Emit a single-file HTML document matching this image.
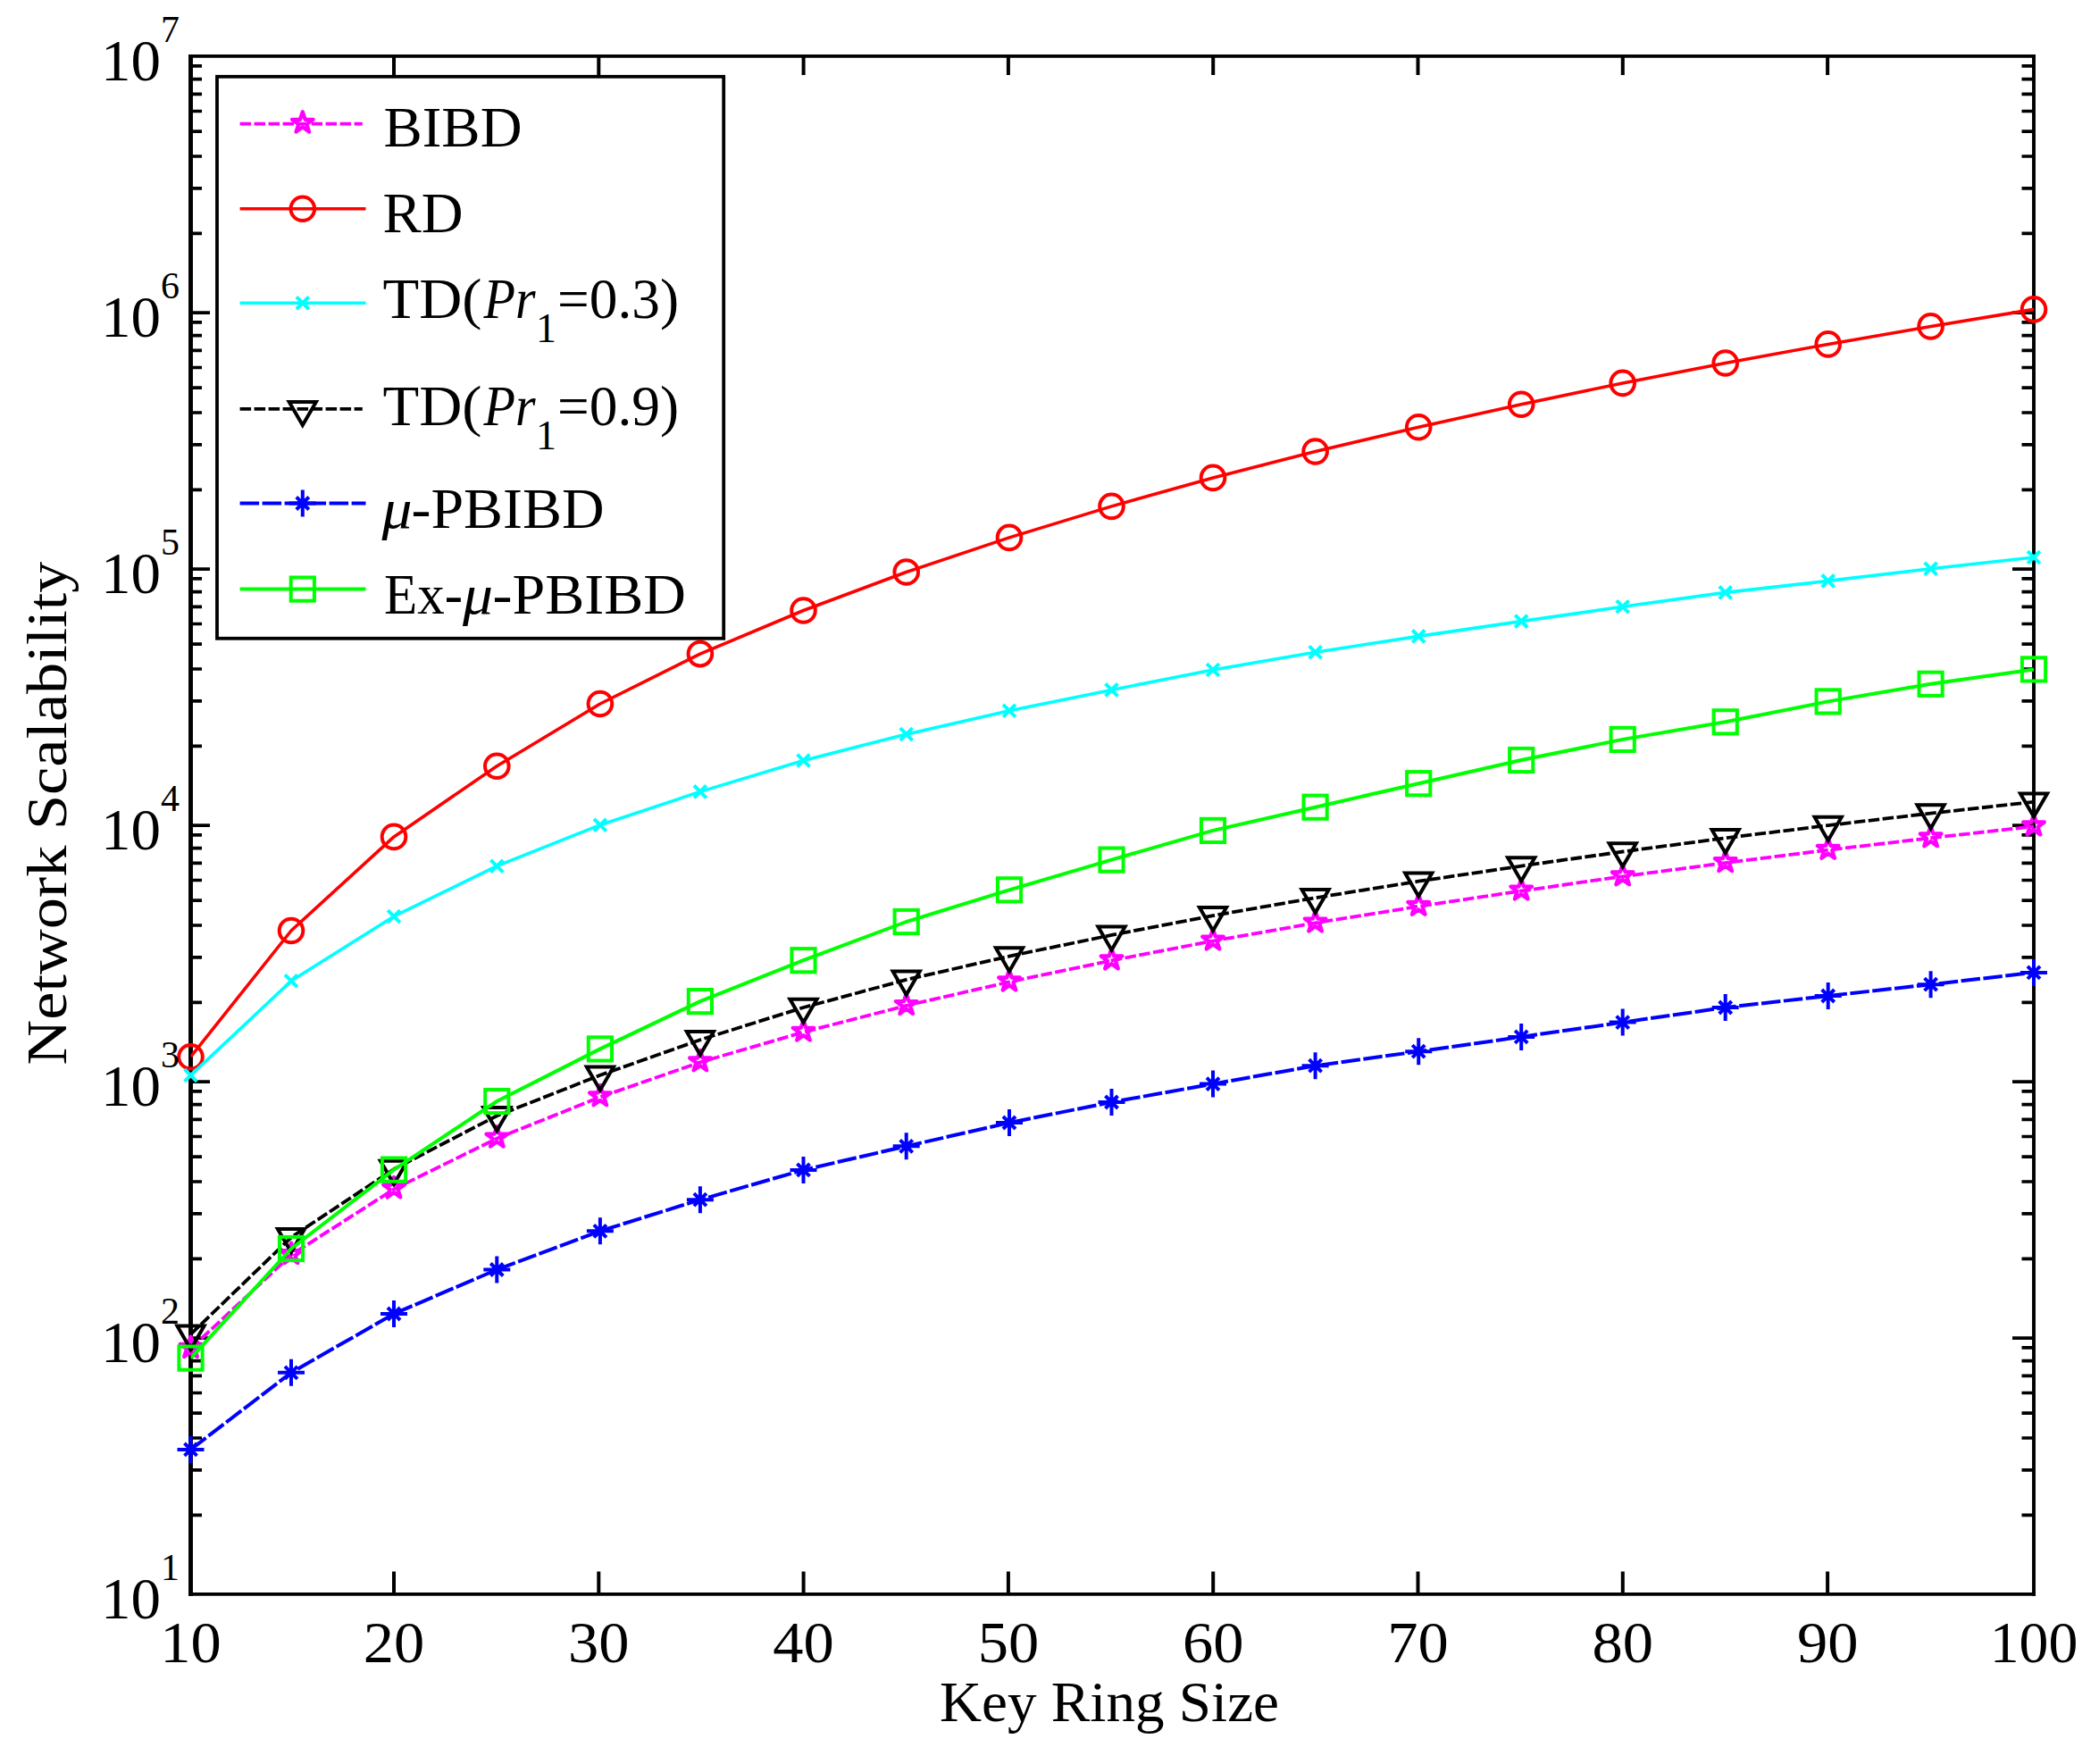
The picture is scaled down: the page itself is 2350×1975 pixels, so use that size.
<!DOCTYPE html>
<html lang="en"><head><meta charset="utf-8"><title>Network Scalability vs Key Ring Size</title>
<style>html,body{margin:0;padding:0;background:#fff}body{width:2350px;height:1975px}svg{display:block}text{font-family:"Liberation Serif","DejaVu Serif",serif;fill:#000}</style></head><body>
<svg width="2350" height="1975" viewBox="0 0 2350 1975">
<rect x="0" y="0" width="2350" height="1975" fill="#fff"/>
<defs><clipPath id="ax"><rect x="213.5" y="63" width="2065.4" height="1722"/></clipPath></defs>
<g stroke="#000" fill="none">
<line x1="213.5" y1="61.0" x2="213.5" y2="1786.8" stroke-width="4.9"/>
<line x1="2277.0" y1="61.0" x2="2277.0" y2="1786.8" stroke-width="3.9"/>
<line x1="211.0" y1="62.9" x2="2279.0" y2="62.9" stroke-width="3.9"/>
<line x1="211.0" y1="1784.9" x2="2279.0" y2="1784.9" stroke-width="3.8"/>
<path d="M441.0 1784.9V1759.5M441.0 62.9V84.0M670.3 1784.9V1759.5M670.3 62.9V84.0M899.6 1784.9V1759.5M899.6 62.9V84.0M1128.9 1784.9V1759.5M1128.9 62.9V84.0M1358.2 1784.9V1759.5M1358.2 62.9V84.0M1587.5 1784.9V1759.5M1587.5 62.9V84.0M1816.8 1784.9V1759.5M1816.8 62.9V84.0M2046.1 1784.9V1759.5M2046.1 62.9V84.0" stroke-width="4"/>
<path d="M213.5 1498.1H235.0M2277.0 1498.1H2253.0M213.5 1211.1H235.0M2277.0 1211.1H2253.0M213.5 924.1H235.0M2277.0 924.1H2253.0M213.5 637.1H235.0M2277.0 637.1H2253.0M213.5 350.1H235.0M2277.0 350.1H2253.0" stroke-width="3.9"/>
<path d="M213.5 1696.4H226.0M2277.0 1696.4H2263.5M213.5 1645.9H226.0M2277.0 1645.9H2263.5M213.5 1610.0H226.0M2277.0 1610.0H2263.5M213.5 1582.2H226.0M2277.0 1582.2H2263.5M213.5 1559.5H226.0M2277.0 1559.5H2263.5M213.5 1540.3H226.0M2277.0 1540.3H2263.5M213.5 1523.6H226.0M2277.0 1523.6H2263.5M213.5 1508.9H226.0M2277.0 1508.9H2263.5M213.5 1409.4H226.0M2277.0 1409.4H2263.5M213.5 1358.9H226.0M2277.0 1358.9H2263.5M213.5 1323.0H226.0M2277.0 1323.0H2263.5M213.5 1295.2H226.0M2277.0 1295.2H2263.5M213.5 1272.5H226.0M2277.0 1272.5H2263.5M213.5 1253.3H226.0M2277.0 1253.3H2263.5M213.5 1236.6H226.0M2277.0 1236.6H2263.5M213.5 1221.9H226.0M2277.0 1221.9H2263.5M213.5 1122.4H226.0M2277.0 1122.4H2263.5M213.5 1071.9H226.0M2277.0 1071.9H2263.5M213.5 1036.0H226.0M2277.0 1036.0H2263.5M213.5 1008.2H226.0M2277.0 1008.2H2263.5M213.5 985.5H226.0M2277.0 985.5H2263.5M213.5 966.3H226.0M2277.0 966.3H2263.5M213.5 949.6H226.0M2277.0 949.6H2263.5M213.5 934.9H226.0M2277.0 934.9H2263.5M213.5 835.4H226.0M2277.0 835.4H2263.5M213.5 784.9H226.0M2277.0 784.9H2263.5M213.5 749.0H226.0M2277.0 749.0H2263.5M213.5 721.2H226.0M2277.0 721.2H2263.5M213.5 698.5H226.0M2277.0 698.5H2263.5M213.5 679.3H226.0M2277.0 679.3H2263.5M213.5 662.6H226.0M2277.0 662.6H2263.5M213.5 647.9H226.0M2277.0 647.9H2263.5M213.5 548.4H226.0M2277.0 548.4H2263.5M213.5 497.9H226.0M2277.0 497.9H2263.5M213.5 462.0H226.0M2277.0 462.0H2263.5M213.5 434.2H226.0M2277.0 434.2H2263.5M213.5 411.5H226.0M2277.0 411.5H2263.5M213.5 392.3H226.0M2277.0 392.3H2263.5M213.5 375.6H226.0M2277.0 375.6H2263.5M213.5 360.9H226.0M2277.0 360.9H2263.5M213.5 261.4H226.0M2277.0 261.4H2263.5M213.5 210.9H226.0M2277.0 210.9H2263.5M213.5 175.0H226.0M2277.0 175.0H2263.5M213.5 147.2H226.0M2277.0 147.2H2263.5M213.5 124.5H226.0M2277.0 124.5H2263.5M213.5 105.3H226.0M2277.0 105.3H2263.5M213.5 88.6H226.0M2277.0 88.6H2263.5M213.5 73.9H226.0M2277.0 73.9H2263.5" stroke-width="3.7"/>
</g>
<polyline clip-path="url(#ax)" points="213.5,1509.9 326.0,1405.0 441.0,1331.4 556.3,1274.6 671.9,1228.3 783.9,1189.3 899.5,1155.6 1014.7,1125.9 1130.0,1099.4 1244.5,1075.4 1358.0,1053.5 1472.6,1033.4 1588.2,1014.8 1703.2,997.5 1816.7,981.3 1931.7,966.1 2046.7,951.7 2161.6,938.2 2277.0,925.3" fill="none" stroke="#ff00ff" stroke-width="3.8" stroke-dasharray="12.5 3.5" stroke-linejoin="round"/>
<g><polygon points="213.5,1496.5 216.3,1505.0 225.3,1505.0 218.0,1510.3 220.8,1518.9 213.5,1513.6 206.2,1518.9 209.0,1510.3 201.7,1505.0 210.7,1505.0" fill="none" stroke="#ff00ff" stroke-width="4.3" stroke-linejoin="round"/><polygon points="326.0,1391.6 328.8,1400.2 337.8,1400.2 330.5,1405.5 333.3,1414.1 326.0,1408.8 318.7,1414.1 321.5,1405.5 314.2,1400.2 323.2,1400.2" fill="none" stroke="#ff00ff" stroke-width="4.3" stroke-linejoin="round"/><polygon points="441.0,1318.0 443.8,1326.5 452.8,1326.5 445.5,1331.8 448.3,1340.4 441.0,1335.1 433.7,1340.4 436.5,1331.8 429.2,1326.5 438.2,1326.5" fill="none" stroke="#ff00ff" stroke-width="4.3" stroke-linejoin="round"/><polygon points="556.3,1261.2 559.1,1269.7 568.1,1269.7 560.8,1275.0 563.6,1283.6 556.3,1278.3 549.0,1283.6 551.8,1275.0 544.5,1269.7 553.5,1269.7" fill="none" stroke="#ff00ff" stroke-width="4.3" stroke-linejoin="round"/><polygon points="671.9,1214.9 674.7,1223.5 683.7,1223.5 676.4,1228.8 679.2,1237.3 671.9,1232.1 664.6,1237.3 667.4,1228.8 660.1,1223.5 669.1,1223.5" fill="none" stroke="#ff00ff" stroke-width="4.3" stroke-linejoin="round"/><polygon points="783.9,1175.9 786.7,1184.5 795.7,1184.5 788.4,1189.8 791.2,1198.3 783.9,1193.1 776.6,1198.3 779.4,1189.8 772.1,1184.5 781.1,1184.5" fill="none" stroke="#ff00ff" stroke-width="4.3" stroke-linejoin="round"/><polygon points="899.5,1142.2 902.3,1150.8 911.3,1150.8 904.0,1156.1 906.8,1164.6 899.5,1159.3 892.2,1164.6 895.0,1156.1 887.7,1150.8 896.7,1150.8" fill="none" stroke="#ff00ff" stroke-width="4.3" stroke-linejoin="round"/><polygon points="1014.7,1112.5 1017.5,1121.1 1026.5,1121.1 1019.2,1126.4 1022.0,1134.9 1014.7,1129.6 1007.4,1134.9 1010.2,1126.4 1002.9,1121.1 1011.9,1121.1" fill="none" stroke="#ff00ff" stroke-width="4.3" stroke-linejoin="round"/><polygon points="1130.0,1086.0 1132.8,1094.5 1141.8,1094.5 1134.5,1099.8 1137.3,1108.4 1130.0,1103.1 1122.7,1108.4 1125.5,1099.8 1118.2,1094.5 1127.2,1094.5" fill="none" stroke="#ff00ff" stroke-width="4.3" stroke-linejoin="round"/><polygon points="1244.5,1062.0 1247.3,1070.5 1256.3,1070.5 1249.0,1075.8 1251.8,1084.4 1244.5,1079.1 1237.2,1084.4 1240.0,1075.8 1232.7,1070.5 1241.7,1070.5" fill="none" stroke="#ff00ff" stroke-width="4.3" stroke-linejoin="round"/><polygon points="1358.0,1040.1 1360.8,1048.7 1369.8,1048.7 1362.5,1054.0 1365.3,1062.5 1358.0,1057.2 1350.7,1062.5 1353.5,1054.0 1346.2,1048.7 1355.2,1048.7" fill="none" stroke="#ff00ff" stroke-width="4.3" stroke-linejoin="round"/><polygon points="1472.6,1020.0 1475.4,1028.6 1484.4,1028.6 1477.1,1033.9 1479.9,1042.4 1472.6,1037.1 1465.3,1042.4 1468.1,1033.9 1460.8,1028.6 1469.8,1028.6" fill="none" stroke="#ff00ff" stroke-width="4.3" stroke-linejoin="round"/><polygon points="1588.2,1001.4 1591.0,1009.9 1600.0,1009.9 1592.7,1015.2 1595.5,1023.8 1588.2,1018.5 1580.9,1023.8 1583.7,1015.2 1576.4,1009.9 1585.4,1009.9" fill="none" stroke="#ff00ff" stroke-width="4.3" stroke-linejoin="round"/><polygon points="1703.2,984.1 1706.0,992.6 1715.0,992.6 1707.7,997.9 1710.5,1006.5 1703.2,1001.2 1695.9,1006.5 1698.7,997.9 1691.4,992.6 1700.4,992.6" fill="none" stroke="#ff00ff" stroke-width="4.3" stroke-linejoin="round"/><polygon points="1816.7,967.9 1819.5,976.4 1828.5,976.4 1821.2,981.7 1824.0,990.3 1816.7,985.0 1809.4,990.3 1812.2,981.7 1804.9,976.4 1813.9,976.4" fill="none" stroke="#ff00ff" stroke-width="4.3" stroke-linejoin="round"/><polygon points="1931.7,952.7 1934.5,961.2 1943.5,961.2 1936.2,966.5 1939.0,975.1 1931.7,969.8 1924.4,975.1 1927.2,966.5 1919.9,961.2 1928.9,961.2" fill="none" stroke="#ff00ff" stroke-width="4.3" stroke-linejoin="round"/><polygon points="2046.7,938.3 2049.5,946.9 2058.5,946.9 2051.2,952.2 2054.0,960.8 2046.7,955.5 2039.4,960.8 2042.2,952.2 2034.9,946.9 2043.9,946.9" fill="none" stroke="#ff00ff" stroke-width="4.3" stroke-linejoin="round"/><polygon points="2161.6,924.8 2164.4,933.4 2173.4,933.4 2166.1,938.7 2168.9,947.2 2161.6,941.9 2154.3,947.2 2157.1,938.7 2149.8,933.4 2158.8,933.4" fill="none" stroke="#ff00ff" stroke-width="4.3" stroke-linejoin="round"/><polygon points="2277.0,911.9 2279.8,920.5 2288.8,920.5 2281.5,925.8 2284.3,934.4 2277.0,929.1 2269.7,934.4 2272.5,925.8 2265.2,920.5 2274.2,920.5" fill="none" stroke="#ff00ff" stroke-width="4.3" stroke-linejoin="round"/></g>
<polyline clip-path="url(#ax)" points="213.5,1183.2 326.0,1042.0 441.0,936.9 556.3,857.7 671.9,788.0 783.9,732.1 899.5,683.5 1014.7,640.5 1130.0,601.9 1244.5,566.9 1358.0,534.9 1472.6,505.5 1588.2,478.2 1703.2,452.7 1816.7,428.9 1931.7,406.5 2046.7,385.4 2161.6,365.4 2277.0,346.4" fill="none" stroke="#ff0000" stroke-width="3.6" stroke-linejoin="round"/>
<g><circle cx="213.5" cy="1183.2" r="13.3" fill="none" stroke="#ff0000" stroke-width="4.0"/><circle cx="326.0" cy="1042.0" r="13.3" fill="none" stroke="#ff0000" stroke-width="4.0"/><circle cx="441.0" cy="936.9" r="13.3" fill="none" stroke="#ff0000" stroke-width="4.0"/><circle cx="556.3" cy="857.7" r="13.3" fill="none" stroke="#ff0000" stroke-width="4.0"/><circle cx="671.9" cy="788.0" r="13.3" fill="none" stroke="#ff0000" stroke-width="4.0"/><circle cx="783.9" cy="732.1" r="13.3" fill="none" stroke="#ff0000" stroke-width="4.0"/><circle cx="899.5" cy="683.5" r="13.3" fill="none" stroke="#ff0000" stroke-width="4.0"/><circle cx="1014.7" cy="640.5" r="13.3" fill="none" stroke="#ff0000" stroke-width="4.0"/><circle cx="1130.0" cy="601.9" r="13.3" fill="none" stroke="#ff0000" stroke-width="4.0"/><circle cx="1244.5" cy="566.9" r="13.3" fill="none" stroke="#ff0000" stroke-width="4.0"/><circle cx="1358.0" cy="534.9" r="13.3" fill="none" stroke="#ff0000" stroke-width="4.0"/><circle cx="1472.6" cy="505.5" r="13.3" fill="none" stroke="#ff0000" stroke-width="4.0"/><circle cx="1588.2" cy="478.2" r="13.3" fill="none" stroke="#ff0000" stroke-width="4.0"/><circle cx="1703.2" cy="452.7" r="13.3" fill="none" stroke="#ff0000" stroke-width="4.0"/><circle cx="1816.7" cy="428.9" r="13.3" fill="none" stroke="#ff0000" stroke-width="4.0"/><circle cx="1931.7" cy="406.5" r="13.3" fill="none" stroke="#ff0000" stroke-width="4.0"/><circle cx="2046.7" cy="385.4" r="13.3" fill="none" stroke="#ff0000" stroke-width="4.0"/><circle cx="2161.6" cy="365.4" r="13.3" fill="none" stroke="#ff0000" stroke-width="4.0"/><circle cx="2277.0" cy="346.4" r="13.3" fill="none" stroke="#ff0000" stroke-width="4.0"/></g>
<polyline clip-path="url(#ax)" points="213.5,1204.0 326.0,1098.2 441.0,1026.0 556.3,969.7 671.9,923.7 783.9,886.4 899.5,851.5 1014.7,822.1 1130.0,795.7 1244.5,772.4 1358.0,750.0 1472.6,730.2 1588.2,712.4 1703.2,695.6 1816.7,679.3 1931.7,663.4 2046.7,650.4 2161.6,636.8 2277.0,624.0" fill="none" stroke="#00ffff" stroke-width="3.6" stroke-linejoin="round"/>
<g><path d="M206.6 1197.1L220.4 1210.9M206.6 1210.9L220.4 1197.1" fill="none" stroke="#00ffff" stroke-width="4.0"/><path d="M319.1 1091.3L332.9 1105.1M319.1 1105.1L332.9 1091.3" fill="none" stroke="#00ffff" stroke-width="4.0"/><path d="M434.1 1019.1L447.9 1032.9M434.1 1032.9L447.9 1019.1" fill="none" stroke="#00ffff" stroke-width="4.0"/><path d="M549.4 962.8L563.2 976.6M549.4 976.6L563.2 962.8" fill="none" stroke="#00ffff" stroke-width="4.0"/><path d="M665.0 916.8L678.8 930.6M665.0 930.6L678.8 916.8" fill="none" stroke="#00ffff" stroke-width="4.0"/><path d="M777.0 879.5L790.8 893.3M777.0 893.3L790.8 879.5" fill="none" stroke="#00ffff" stroke-width="4.0"/><path d="M892.6 844.6L906.4 858.4M892.6 858.4L906.4 844.6" fill="none" stroke="#00ffff" stroke-width="4.0"/><path d="M1007.8 815.2L1021.6 829.0M1007.8 829.0L1021.6 815.2" fill="none" stroke="#00ffff" stroke-width="4.0"/><path d="M1123.1 788.8L1136.9 802.6M1123.1 802.6L1136.9 788.8" fill="none" stroke="#00ffff" stroke-width="4.0"/><path d="M1237.6 765.5L1251.4 779.3M1237.6 779.3L1251.4 765.5" fill="none" stroke="#00ffff" stroke-width="4.0"/><path d="M1351.1 743.1L1364.9 756.9M1351.1 756.9L1364.9 743.1" fill="none" stroke="#00ffff" stroke-width="4.0"/><path d="M1465.7 723.3L1479.5 737.1M1465.7 737.1L1479.5 723.3" fill="none" stroke="#00ffff" stroke-width="4.0"/><path d="M1581.3 705.5L1595.1 719.3M1581.3 719.3L1595.1 705.5" fill="none" stroke="#00ffff" stroke-width="4.0"/><path d="M1696.3 688.7L1710.1 702.5M1696.3 702.5L1710.1 688.7" fill="none" stroke="#00ffff" stroke-width="4.0"/><path d="M1809.8 672.4L1823.6 686.2M1809.8 686.2L1823.6 672.4" fill="none" stroke="#00ffff" stroke-width="4.0"/><path d="M1924.8 656.5L1938.6 670.3M1924.8 670.3L1938.6 656.5" fill="none" stroke="#00ffff" stroke-width="4.0"/><path d="M2039.8 643.5L2053.6 657.3M2039.8 657.3L2053.6 643.5" fill="none" stroke="#00ffff" stroke-width="4.0"/><path d="M2154.7 629.9L2168.5 643.7M2154.7 643.7L2168.5 629.9" fill="none" stroke="#00ffff" stroke-width="4.0"/><path d="M2270.1 617.1L2283.9 630.9M2270.1 630.9L2283.9 617.1" fill="none" stroke="#00ffff" stroke-width="4.0"/></g>
<polyline clip-path="url(#ax)" points="213.5,1493.9 326.0,1385.3 441.0,1309.0 556.3,1249.3 671.9,1203.8 783.9,1164.2 899.5,1128.0 1014.7,1096.9 1130.0,1070.6 1244.5,1046.9 1358.0,1025.2 1472.6,1005.2 1588.2,986.7 1703.2,969.6 1816.7,953.5 1931.7,938.3 2046.7,924.1 2161.6,910.6 2277.0,897.8" fill="none" stroke="#000000" stroke-width="3.8" stroke-dasharray="12.5 3.5" stroke-linejoin="round"/>
<g><polygon points="198.4,1484.6 228.6,1484.6 213.5,1510.7" fill="none" stroke="#000000" stroke-width="4.0" stroke-linejoin="miter"/><polygon points="310.9,1376.0 341.1,1376.0 326.0,1402.1" fill="none" stroke="#000000" stroke-width="4.0" stroke-linejoin="miter"/><polygon points="425.9,1299.7 456.1,1299.7 441.0,1325.8" fill="none" stroke="#000000" stroke-width="4.0" stroke-linejoin="miter"/><polygon points="541.2,1240.0 571.4,1240.0 556.3,1266.1" fill="none" stroke="#000000" stroke-width="4.0" stroke-linejoin="miter"/><polygon points="656.8,1194.5 687.0,1194.5 671.9,1220.6" fill="none" stroke="#000000" stroke-width="4.0" stroke-linejoin="miter"/><polygon points="768.8,1154.9 799.0,1154.9 783.9,1181.0" fill="none" stroke="#000000" stroke-width="4.0" stroke-linejoin="miter"/><polygon points="884.4,1118.7 914.6,1118.7 899.5,1144.8" fill="none" stroke="#000000" stroke-width="4.0" stroke-linejoin="miter"/><polygon points="999.6,1087.6 1029.8,1087.6 1014.7,1113.7" fill="none" stroke="#000000" stroke-width="4.0" stroke-linejoin="miter"/><polygon points="1114.9,1061.3 1145.1,1061.3 1130.0,1087.4" fill="none" stroke="#000000" stroke-width="4.0" stroke-linejoin="miter"/><polygon points="1229.4,1037.6 1259.6,1037.6 1244.5,1063.7" fill="none" stroke="#000000" stroke-width="4.0" stroke-linejoin="miter"/><polygon points="1342.9,1015.9 1373.1,1015.9 1358.0,1042.0" fill="none" stroke="#000000" stroke-width="4.0" stroke-linejoin="miter"/><polygon points="1457.5,995.9 1487.7,995.9 1472.6,1022.0" fill="none" stroke="#000000" stroke-width="4.0" stroke-linejoin="miter"/><polygon points="1573.1,977.4 1603.3,977.4 1588.2,1003.5" fill="none" stroke="#000000" stroke-width="4.0" stroke-linejoin="miter"/><polygon points="1688.1,960.3 1718.3,960.3 1703.2,986.4" fill="none" stroke="#000000" stroke-width="4.0" stroke-linejoin="miter"/><polygon points="1801.6,944.2 1831.8,944.2 1816.7,970.3" fill="none" stroke="#000000" stroke-width="4.0" stroke-linejoin="miter"/><polygon points="1916.6,929.0 1946.8,929.0 1931.7,955.1" fill="none" stroke="#000000" stroke-width="4.0" stroke-linejoin="miter"/><polygon points="2031.6,914.8 2061.8,914.8 2046.7,940.9" fill="none" stroke="#000000" stroke-width="4.0" stroke-linejoin="miter"/><polygon points="2146.5,901.3 2176.7,901.3 2161.6,927.4" fill="none" stroke="#000000" stroke-width="4.0" stroke-linejoin="miter"/><polygon points="2261.9,888.5 2292.1,888.5 2277.0,914.6" fill="none" stroke="#000000" stroke-width="4.0" stroke-linejoin="miter"/></g>
<polyline clip-path="url(#ax)" points="213.5,1622.9 326.0,1536.8 441.0,1471.0 556.3,1421.5 671.9,1378.3 783.9,1343.2 899.5,1309.9 1014.7,1283.3 1130.0,1257.0 1244.5,1234.0 1358.0,1213.6 1472.6,1193.2 1588.2,1177.2 1703.2,1160.9 1816.7,1144.6 1931.7,1128.0 2046.7,1115.0 2161.6,1102.2 2277.0,1088.9" fill="none" stroke="#0000ff" stroke-width="4.0" stroke-dasharray="21.5 3.5" stroke-linejoin="round"/>
<g><path d="M198.5 1622.9L228.5 1622.9M213.5 1607.9L213.5 1637.9M206.5 1615.9L220.5 1629.9M206.5 1629.9L220.5 1615.9" fill="none" stroke="#0000ff" stroke-width="4.0"/><path d="M311.0 1536.8L341.0 1536.8M326.0 1521.8L326.0 1551.8M319.0 1529.8L333.0 1543.8M319.0 1543.8L333.0 1529.8" fill="none" stroke="#0000ff" stroke-width="4.0"/><path d="M426.0 1471.0L456.0 1471.0M441.0 1456.0L441.0 1486.0M434.0 1464.0L448.0 1478.0M434.0 1478.0L448.0 1464.0" fill="none" stroke="#0000ff" stroke-width="4.0"/><path d="M541.3 1421.5L571.3 1421.5M556.3 1406.5L556.3 1436.5M549.3 1414.5L563.3 1428.5M549.3 1428.5L563.3 1414.5" fill="none" stroke="#0000ff" stroke-width="4.0"/><path d="M656.9 1378.3L686.9 1378.3M671.9 1363.3L671.9 1393.3M664.9 1371.3L678.9 1385.3M664.9 1385.3L678.9 1371.3" fill="none" stroke="#0000ff" stroke-width="4.0"/><path d="M768.9 1343.2L798.9 1343.2M783.9 1328.2L783.9 1358.2M776.9 1336.2L790.9 1350.2M776.9 1350.2L790.9 1336.2" fill="none" stroke="#0000ff" stroke-width="4.0"/><path d="M884.5 1309.9L914.5 1309.9M899.5 1294.9L899.5 1324.9M892.5 1302.9L906.5 1316.9M892.5 1316.9L906.5 1302.9" fill="none" stroke="#0000ff" stroke-width="4.0"/><path d="M999.7 1283.3L1029.7 1283.3M1014.7 1268.3L1014.7 1298.3M1007.7 1276.3L1021.7 1290.3M1007.7 1290.3L1021.7 1276.3" fill="none" stroke="#0000ff" stroke-width="4.0"/><path d="M1115.0 1257.0L1145.0 1257.0M1130.0 1242.0L1130.0 1272.0M1123.0 1250.0L1137.0 1264.0M1123.0 1264.0L1137.0 1250.0" fill="none" stroke="#0000ff" stroke-width="4.0"/><path d="M1229.5 1234.0L1259.5 1234.0M1244.5 1219.0L1244.5 1249.0M1237.5 1227.0L1251.5 1241.0M1237.5 1241.0L1251.5 1227.0" fill="none" stroke="#0000ff" stroke-width="4.0"/><path d="M1343.0 1213.6L1373.0 1213.6M1358.0 1198.6L1358.0 1228.6M1351.0 1206.6L1365.0 1220.6M1351.0 1220.6L1365.0 1206.6" fill="none" stroke="#0000ff" stroke-width="4.0"/><path d="M1457.6 1193.2L1487.6 1193.2M1472.6 1178.2L1472.6 1208.2M1465.6 1186.2L1479.6 1200.2M1465.6 1200.2L1479.6 1186.2" fill="none" stroke="#0000ff" stroke-width="4.0"/><path d="M1573.2 1177.2L1603.2 1177.2M1588.2 1162.2L1588.2 1192.2M1581.2 1170.2L1595.2 1184.2M1581.2 1184.2L1595.2 1170.2" fill="none" stroke="#0000ff" stroke-width="4.0"/><path d="M1688.2 1160.9L1718.2 1160.9M1703.2 1145.9L1703.2 1175.9M1696.2 1153.9L1710.2 1167.9M1696.2 1167.9L1710.2 1153.9" fill="none" stroke="#0000ff" stroke-width="4.0"/><path d="M1801.7 1144.6L1831.7 1144.6M1816.7 1129.6L1816.7 1159.6M1809.7 1137.6L1823.7 1151.6M1809.7 1151.6L1823.7 1137.6" fill="none" stroke="#0000ff" stroke-width="4.0"/><path d="M1916.7 1128.0L1946.7 1128.0M1931.7 1113.0L1931.7 1143.0M1924.7 1121.0L1938.7 1135.0M1924.7 1135.0L1938.7 1121.0" fill="none" stroke="#0000ff" stroke-width="4.0"/><path d="M2031.7 1115.0L2061.7 1115.0M2046.7 1100.0L2046.7 1130.0M2039.7 1108.0L2053.7 1122.0M2039.7 1122.0L2053.7 1108.0" fill="none" stroke="#0000ff" stroke-width="4.0"/><path d="M2146.6 1102.2L2176.6 1102.2M2161.6 1087.2L2161.6 1117.2M2154.6 1095.2L2168.6 1109.2M2154.6 1109.2L2168.6 1095.2" fill="none" stroke="#0000ff" stroke-width="4.0"/><path d="M2262.0 1088.9L2292.0 1088.9M2277.0 1073.9L2277.0 1103.9M2270.0 1081.9L2284.0 1095.9M2270.0 1095.9L2284.0 1081.9" fill="none" stroke="#0000ff" stroke-width="4.0"/></g>
<polyline clip-path="url(#ax)" points="213.5,1520.6 326.0,1398.0 441.0,1309.6 556.3,1233.0 671.9,1174.4 783.9,1121.1 899.5,1075.2 1014.7,1032.0 1130.0,996.3 1244.5,962.6 1358.0,929.9 1472.6,903.7 1588.2,877.2 1703.2,851.0 1816.7,827.9 1931.7,808.3 2046.7,785.4 2161.6,765.8 2277.0,749.4" fill="none" stroke="#00ff00" stroke-width="4.0" stroke-linejoin="round"/>
<g><rect x="200.4" y="1507.5" width="26.2" height="26.2" fill="none" stroke="#00ff00" stroke-width="4.0"/><rect x="312.9" y="1384.9" width="26.2" height="26.2" fill="none" stroke="#00ff00" stroke-width="4.0"/><rect x="427.9" y="1296.5" width="26.2" height="26.2" fill="none" stroke="#00ff00" stroke-width="4.0"/><rect x="543.2" y="1219.9" width="26.2" height="26.2" fill="none" stroke="#00ff00" stroke-width="4.0"/><rect x="658.8" y="1161.3" width="26.2" height="26.2" fill="none" stroke="#00ff00" stroke-width="4.0"/><rect x="770.8" y="1108.0" width="26.2" height="26.2" fill="none" stroke="#00ff00" stroke-width="4.0"/><rect x="886.4" y="1062.1" width="26.2" height="26.2" fill="none" stroke="#00ff00" stroke-width="4.0"/><rect x="1001.6" y="1018.9" width="26.2" height="26.2" fill="none" stroke="#00ff00" stroke-width="4.0"/><rect x="1116.9" y="983.2" width="26.2" height="26.2" fill="none" stroke="#00ff00" stroke-width="4.0"/><rect x="1231.4" y="949.5" width="26.2" height="26.2" fill="none" stroke="#00ff00" stroke-width="4.0"/><rect x="1344.9" y="916.8" width="26.2" height="26.2" fill="none" stroke="#00ff00" stroke-width="4.0"/><rect x="1459.5" y="890.6" width="26.2" height="26.2" fill="none" stroke="#00ff00" stroke-width="4.0"/><rect x="1575.1" y="864.1" width="26.2" height="26.2" fill="none" stroke="#00ff00" stroke-width="4.0"/><rect x="1690.1" y="837.9" width="26.2" height="26.2" fill="none" stroke="#00ff00" stroke-width="4.0"/><rect x="1803.6" y="814.8" width="26.2" height="26.2" fill="none" stroke="#00ff00" stroke-width="4.0"/><rect x="1918.6" y="795.2" width="26.2" height="26.2" fill="none" stroke="#00ff00" stroke-width="4.0"/><rect x="2033.6" y="772.3" width="26.2" height="26.2" fill="none" stroke="#00ff00" stroke-width="4.0"/><rect x="2148.5" y="752.7" width="26.2" height="26.2" fill="none" stroke="#00ff00" stroke-width="4.0"/><rect x="2263.9" y="736.3" width="26.2" height="26.2" fill="none" stroke="#00ff00" stroke-width="4.0"/></g>
<rect x="243" y="85.8" width="567.2" height="629" fill="#fff" stroke="#000" stroke-width="3.8"/>
<line x1="268.6" y1="138.6" x2="405.8" y2="138.6" stroke="#ff00ff" stroke-width="3.8" stroke-dasharray="12.5 3.5"/>
<polygon points="338.8,125.2 341.6,133.8 350.6,133.8 343.3,139.1 346.1,147.6 338.8,142.3 331.5,147.6 334.3,139.1 327.0,133.8 336.0,133.8" fill="none" stroke="#ff00ff" stroke-width="4.3" stroke-linejoin="round"/>
<line x1="268.6" y1="233.8" x2="409.5" y2="233.8" stroke="#ff0000" stroke-width="3.6"/>
<circle cx="338.8" cy="233.8" r="13.3" fill="none" stroke="#ff0000" stroke-width="4.0"/>
<line x1="268.6" y1="339.3" x2="409.5" y2="339.3" stroke="#00ffff" stroke-width="3.6"/>
<path d="M331.9 332.4L345.7 346.2M331.9 346.2L345.7 332.4" fill="none" stroke="#00ffff" stroke-width="4.0"/>
<line x1="268.6" y1="457.8" x2="405.8" y2="457.8" stroke="#000000" stroke-width="3.8" stroke-dasharray="12.5 3.5"/>
<polygon points="323.7,450.0 353.9,450.0 338.8,476.1" fill="none" stroke="#000000" stroke-width="4.0" stroke-linejoin="miter"/>
<line x1="268.6" y1="563.5" x2="409.5" y2="563.5" stroke="#0000ff" stroke-width="4.0" stroke-dasharray="21.5 3.5"/>
<path d="M323.8 563.5L353.8 563.5M338.8 548.5L338.8 578.5M331.8 556.5L345.8 570.5M331.8 570.5L345.8 556.5" fill="none" stroke="#0000ff" stroke-width="4.0"/>
<line x1="268.6" y1="659.6" x2="409.5" y2="659.6" stroke="#00ff00" stroke-width="4.0"/>
<rect x="325.7" y="646.5" width="26.2" height="26.2" fill="none" stroke="#00ff00" stroke-width="4.0"/>
<text font-size="63.0"><tspan x="429.5" y="164.3" textLength="155.0" lengthAdjust="spacingAndGlyphs">BIBD</tspan></text>
<text font-size="63.0"><tspan x="428.5" y="260.1" textLength="90.0" lengthAdjust="spacingAndGlyphs">RD</tspan></text>
<text font-size="63.0"><tspan x="428.5" y="355.9" textLength="111.0" lengthAdjust="spacingAndGlyphs">TD(</tspan><tspan x="541.5" y="355.9" textLength="58.0" lengthAdjust="spacingAndGlyphs" font-style="italic">Pr</tspan><tspan x="600.0" y="383.4" textLength="23.0" lengthAdjust="spacingAndGlyphs" font-size="47.0">1</tspan><tspan x="624.0" y="355.9" textLength="136.0" lengthAdjust="spacingAndGlyphs">=0.3)</tspan></text>
<text font-size="63.0"><tspan x="428.5" y="475.8" textLength="111.0" lengthAdjust="spacingAndGlyphs">TD(</tspan><tspan x="541.5" y="475.8" textLength="58.0" lengthAdjust="spacingAndGlyphs" font-style="italic">Pr</tspan><tspan x="600.0" y="503.3" textLength="23.0" lengthAdjust="spacingAndGlyphs" font-size="47.0">1</tspan><tspan x="624.0" y="475.8" textLength="136.0" lengthAdjust="spacingAndGlyphs">=0.9)</tspan></text>
<text font-size="63.0"><tspan x="427.5" y="590.7" textLength="34.0" lengthAdjust="spacingAndGlyphs" font-style="italic">μ</tspan><tspan x="460.5" y="590.7" textLength="216.0" lengthAdjust="spacingAndGlyphs">-PBIBD</tspan></text>
<text font-size="63.0"><tspan x="430.0" y="686.5" textLength="88.0" lengthAdjust="spacingAndGlyphs">Ex-</tspan><tspan x="518.0" y="686.5" textLength="34.0" lengthAdjust="spacingAndGlyphs" font-style="italic">μ</tspan><tspan x="551.5" y="686.5" textLength="216.5" lengthAdjust="spacingAndGlyphs">-PBIBD</tspan></text>
<text x="179.2" y="1861.3" font-size="65.0" textLength="68.5" lengthAdjust="spacingAndGlyphs">10</text>
<text x="406.8" y="1861.3" font-size="65.0" textLength="68.5" lengthAdjust="spacingAndGlyphs">20</text>
<text x="636.0" y="1861.3" font-size="65.0" textLength="68.5" lengthAdjust="spacingAndGlyphs">30</text>
<text x="865.3" y="1861.3" font-size="65.0" textLength="68.5" lengthAdjust="spacingAndGlyphs">40</text>
<text x="1094.7" y="1861.3" font-size="65.0" textLength="68.5" lengthAdjust="spacingAndGlyphs">50</text>
<text x="1324.0" y="1861.3" font-size="65.0" textLength="68.5" lengthAdjust="spacingAndGlyphs">60</text>
<text x="1553.2" y="1861.3" font-size="65.0" textLength="68.5" lengthAdjust="spacingAndGlyphs">70</text>
<text x="1782.5" y="1861.3" font-size="65.0" textLength="68.5" lengthAdjust="spacingAndGlyphs">80</text>
<text x="2011.9" y="1861.3" font-size="65.0" textLength="68.5" lengthAdjust="spacingAndGlyphs">90</text>
<text x="2227.7" y="1861.3" font-size="65.0" textLength="98.7" lengthAdjust="spacingAndGlyphs">100</text>
<text font-size="66.5"><tspan x="113.0" y="1811.8" textLength="67.0" lengthAdjust="spacingAndGlyphs">10</tspan><tspan x="180.0" y="1768.6" textLength="21.0" lengthAdjust="spacingAndGlyphs" font-size="41.5">1</tspan></text>
<text font-size="66.5"><tspan x="113.0" y="1524.8" textLength="67.0" lengthAdjust="spacingAndGlyphs">10</tspan><tspan x="180.0" y="1481.6" textLength="21.0" lengthAdjust="spacingAndGlyphs" font-size="41.5">2</tspan></text>
<text font-size="66.5"><tspan x="113.0" y="1237.8" textLength="67.0" lengthAdjust="spacingAndGlyphs">10</tspan><tspan x="180.0" y="1194.6" textLength="21.0" lengthAdjust="spacingAndGlyphs" font-size="41.5">3</tspan></text>
<text font-size="66.5"><tspan x="113.0" y="950.8" textLength="67.0" lengthAdjust="spacingAndGlyphs">10</tspan><tspan x="180.0" y="907.6" textLength="21.0" lengthAdjust="spacingAndGlyphs" font-size="41.5">4</tspan></text>
<text font-size="66.5"><tspan x="113.0" y="663.8" textLength="67.0" lengthAdjust="spacingAndGlyphs">10</tspan><tspan x="180.0" y="620.6" textLength="21.0" lengthAdjust="spacingAndGlyphs" font-size="41.5">5</tspan></text>
<text font-size="66.5"><tspan x="113.0" y="376.8" textLength="67.0" lengthAdjust="spacingAndGlyphs">10</tspan><tspan x="180.0" y="333.6" textLength="21.0" lengthAdjust="spacingAndGlyphs" font-size="41.5">6</tspan></text>
<text font-size="66.5"><tspan x="113.0" y="89.8" textLength="67.0" lengthAdjust="spacingAndGlyphs">10</tspan><tspan x="180.0" y="46.6" textLength="21.0" lengthAdjust="spacingAndGlyphs" font-size="41.5">7</tspan></text>
<text x="1052.0" y="1926.7" font-size="63.0" textLength="380.0" lengthAdjust="spacingAndGlyphs">Key Ring Size</text>
<text transform="translate(73.7 1192.5) rotate(-90)" x="0" y="0" font-size="63" textLength="564" lengthAdjust="spacingAndGlyphs">Network Scalability</text>
</svg></body></html>
